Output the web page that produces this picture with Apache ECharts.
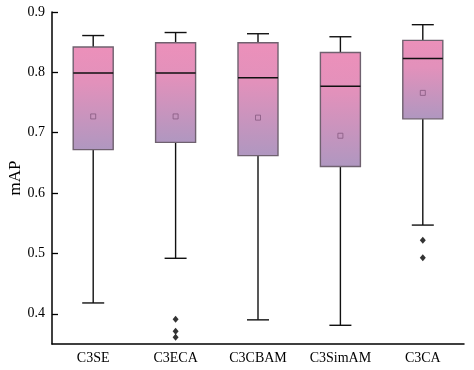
<!DOCTYPE html>
<html>
<head>
<meta charset="utf-8">
<script src="https://cdn.jsdelivr.net/npm/echarts@6/dist/echarts.min.js"></script>
<style>html,body{margin:0;padding:0;background:#fff}#c{width:474px;height:370px}</style>
</head>
<body>
<div id="c"></div>
<script>
var categories = ['C3SE', 'C3ECA', 'C3CBAM', 'C3SimAM', 'C3CA'];
var mins    = [0.418, 0.492, 0.390, 0.381, 0.547];
var q1s     = [0.672, 0.684, 0.662, 0.644, 0.723];
var medians = [0.799, 0.799, 0.791, 0.777, 0.823];
var q3s     = [0.842, 0.849, 0.849, 0.833, 0.853];
var maxs    = [0.861, 0.866, 0.864, 0.859, 0.879];
var means   = [0.727, 0.727, 0.725, 0.695, 0.766];
var outlierCats   = ['C3ECA', 'C3ECA', 'C3ECA', 'C3CA', 'C3CA'];
var outlierValues = [0.391, 0.371, 0.361, 0.522, 0.493];
var yTicks = [0.4, 0.5, 0.6, 0.7, 0.8, 0.9];

var boxData = categories.map(function (c, i) {
  return [i, mins[i], q1s[i], medians[i], q3s[i], maxs[i]];
});
var meanData = categories.map(function (c, i) { return [c, means[i]]; });
var outlierData = outlierCats.map(function (c, i) { return [c, outlierValues[i]]; });

var FONT = '"Liberation Serif", "DejaVu Serif", serif';
var chart = echarts.init(document.getElementById('c'), null, {renderer: 'canvas'});

function renderBox(params, api) {
  var x = api.value(0);
  var pMin = api.coord([x, api.value(1)]);
  var pQ1 = api.coord([x, api.value(2)]);
  var pMed = api.coord([x, api.value(3)]);
  var pQ3 = api.coord([x, api.value(4)]);
  var pMax = api.coord([x, api.value(5)]);
  var cx = pMed[0];
  var hw = 20, cw = 11;
  var lineStyle = {stroke: '#111', lineWidth: 1.4};
  return {
    type: 'group',
    children: [
      {type: 'line', shape: {x1: cx, y1: pMax[1], x2: cx, y2: pQ3[1]}, style: lineStyle},
      {type: 'line', shape: {x1: cx, y1: pQ1[1], x2: cx, y2: pMin[1]}, style: lineStyle},
      {type: 'line', shape: {x1: cx - cw, y1: pMax[1], x2: cx + cw, y2: pMax[1]}, style: lineStyle},
      {type: 'line', shape: {x1: cx - cw, y1: pMin[1], x2: cx + cw, y2: pMin[1]}, style: lineStyle},
      {type: 'rect', shape: {x: cx - hw, y: pQ3[1], width: 2 * hw, height: pQ1[1] - pQ3[1]},
        style: {
          fill: new echarts.graphic.LinearGradient(0, 0, 0, 1, [
            {offset: 0, color: '#EC90BA'},
            {offset: 0.35, color: '#E291BB'},
            {offset: 1, color: '#AF97C0'}
          ]),
          stroke: '#6f616f', lineWidth: 1.4
        }},
      {type: 'line', shape: {x1: cx - hw, y1: pMed[1], x2: cx + hw, y2: pMed[1]}, style: {stroke: '#111', lineWidth: 1.6}}
    ]
  };
}

chart.setOption({
  animation: false,
  grid: {left: 52, right: 10, top: 12, bottom: 26, outerBoundsMode: 'none', containLabel: false},
  xAxis: {
    type: 'category',
    data: categories,
    boundaryGap: true,
    axisLine: {lineStyle: {color: '#000', width: 1.5}},
    axisTick: {alignWithLabel: true, inside: true, length: 6, lineStyle: {color: '#000', width: 1.3}},
    axisLabel: {color: '#000', fontFamily: FONT, fontSize: 14, margin: 7},
    splitLine: {show: false}
  },
  yAxis: {
    type: 'value',
    min: 0.35,
    max: 0.9,
    name: 'mAP',
    nameLocation: 'middle',
    nameGap: 28,
    nameMoveOverlap: false,
    nameTextStyle: {color: '#000', fontFamily: FONT, fontSize: 17},
    axisLine: {show: true, lineStyle: {color: '#000', width: 1.5}},
    axisTick: {show: true, inside: true, length: 6, customValues: yTicks, lineStyle: {color: '#000', width: 1.3}},
    axisLabel: {color: '#000', fontFamily: FONT, fontSize: 14, margin: 7, customValues: yTicks,
      formatter: function (v) { return v.toFixed(1); }},
    splitLine: {show: false}
  },
  series: [
    {
      type: 'custom',
      renderItem: renderBox,
      data: boxData,
      encode: {x: 0, y: [1, 2, 3, 4, 5]},
      z: 2
    },
    {
      type: 'scatter',
      data: meanData,
      symbol: 'rect',
      symbolSize: 5,
      itemStyle: {color: 'rgba(0,0,0,0)', borderColor: '#86597f', borderWidth: 1},
      z: 3
    },
    {
      type: 'scatter',
      data: outlierData,
      symbol: 'diamond',
      symbolSize: [6, 7],
      itemStyle: {color: '#000'},
      z: 3
    }
  ]
});
</script>
</body>
</html>
